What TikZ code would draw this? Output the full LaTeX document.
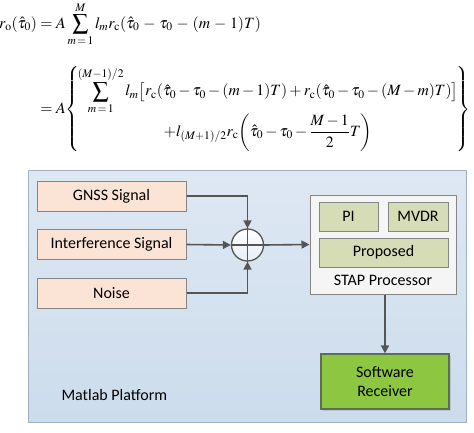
\documentclass[tikz,border=0pt]{standalone}
\usepackage{amsmath}
\usepackage{mathptmx}
\usepackage{fontspec}
\setsansfont{Carlito}
\usetikzlibrary{arrows.meta,shadows}
\definecolor{platfill}{HTML}{D6E3F0}
\definecolor{plattop}{HTML}{DEE8F3}
\definecolor{platbot}{HTML}{CCDCEC}
\definecolor{platline}{HTML}{A3B1BF}
\definecolor{peach}{HTML}{FBE4D6}
\definecolor{boxline}{HTML}{858585}
\definecolor{olive}{HTML}{D6DCB6}
\definecolor{stapfill}{HTML}{F5F5F5}
\definecolor{green1}{HTML}{8DC641}
\definecolor{greenline}{HTML}{5E6E50}
\definecolor{arrowc}{HTML}{555555}
\tikzset{
  every node/.style={font=\sffamily\fontsize{16}{18}\selectfont, text=black},
  srcbox/.style={draw=boxline, line width=1pt, fill=peach, minimum width=149pt, minimum height=30pt, inner sep=0pt},
  algbox/.style={draw=boxline, line width=1pt, fill=olive, minimum height=29pt, inner sep=0pt},
  conn/.style={draw=arrowc, line width=1.6pt, -{Triangle[length=8pt,width=8pt]}},
}
\begin{document}
\begin{tikzpicture}[x=1pt,y=-1pt]
\useasboundingbox (0,0) rectangle (474,432);
% equation
\node[anchor=north west, inner sep=0pt, font=\rmfamily\fontsize{15.7}{19}\selectfont] (eq) at (-1,2) {$\displaystyle
\begin{aligned}
r_{\mathrm{o}}(\hat{\tau}_0) &= A\sum_{m\,=\,1}^{M} l_m r_{\mathrm{c}}(\hat{\tau}_0\,-\,\tau_0\,-\,(m\,-\,1)T)\\[17pt]
&= A\!\left\{\!\begin{array}{@{}c@{}}
\displaystyle\sum_{m\,=\,1}^{(M-1)/2} l_m\bigl[r_{\mathrm{c}}(\hat{\tau}_0-\tau_0-(m-1)T)+r_{\mathrm{c}}(\hat{\tau}_0-\tau_0-(M-m)T)\bigr]\\[11pt]
\displaystyle +l_{(M+1)/2}r_{\mathrm{c}}\biggl(\hat{\tau}_0-\tau_0-\frac{M-1}{2}T\biggr)
\end{array}\!\right\}
\end{aligned}$};
% platform
\draw[draw=platline, line width=1pt, top color=plattop, bottom color=platbot] (28,170) rectangle (466,422);
\node[anchor=west] (plat) at (58,395) {Matlab Platform};
% sources
\node[srcbox] (gnss) at (111.5,196) {GNSS Signal};
\node[srcbox] (intf) at (111.5,244.5) {Interference Signal};
\node[srcbox] (noise) at (111.5,293) {Noise};
% summing junction
\node[draw=arrowc, line width=1.3pt, circle, minimum size=32pt, inner sep=0pt, top color=white, bottom color=platfill!60!white] (sum) at (247.5,245) {};
\draw[arrowc, line width=1.3pt] (sum.north) -- (sum.south) (sum.west) -- (sum.east);
% STAP processor
\node[draw=boxline, line width=1pt, fill=stapfill, minimum width=146pt, minimum height=99pt, inner sep=0pt] (stap) at (383,244.5) {};
\node[algbox, minimum width=59pt] (pi) at (348.5,216.5) {PI};
\node[algbox, minimum width=60pt] (mvdr) at (418,216.5) {MVDR};
\node[algbox, minimum width=129pt] (prop) at (383.5,252.5) {Proposed};
\node (staplbl) at (383,280) {STAP Processor};
% receiver
\node[draw=greenline, line width=1.2pt, fill=green1, minimum width=128pt, minimum height=55pt, inner sep=0pt, align=center, font=\sffamily\fontsize{16}{19}\selectfont, drop shadow={shadow xshift=1.5pt, shadow yshift=-1.5pt, opacity=0.25}] (rx) at (385,381.5) {Software\\Receiver};
% connectors
\draw[conn] (gnss.east) -| (sum.north);
\draw[conn] (intf.east) -- (sum.west);
\draw[conn] (noise.east) -| (sum.south);
\draw[conn] (sum.east) -- (stap.west);
\draw[conn] (stap.south -| rx.north) -- (rx.north);
\end{tikzpicture}
\end{document}
